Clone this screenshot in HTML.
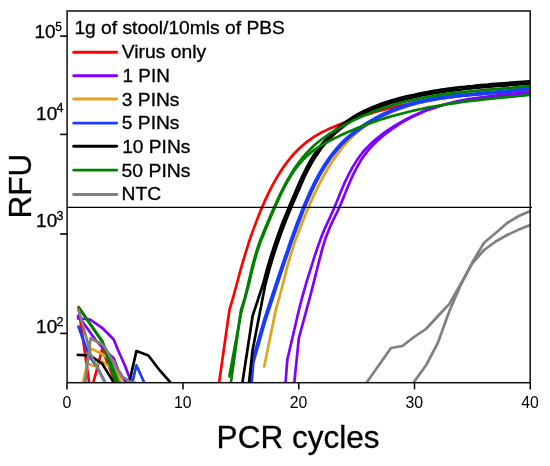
<!DOCTYPE html>
<html><head><meta charset="utf-8"><title>PCR amplification curves</title>
<style>
html,body{margin:0;padding:0;background:#fff;}
svg{display:block;}
text{font-family:"Liberation Sans",Arial,Helvetica,sans-serif;fill:#000;}
</style></head>
<body>
<svg width="550" height="466" viewBox="0 0 550 466">
<rect x="0" y="0" width="550" height="466" fill="#ffffff"/>
<defs><clipPath id="plot"><rect x="67.1" y="11.0" width="463.1" height="371.7"/></clipPath></defs>
<g clip-path="url(#plot)">
<polyline points="78.5,307.0 90.6,393.0 102.1,349.5 113.7,378.0 125.3,400.0" fill="none" stroke="#ff0000" stroke-width="2.7" stroke-linejoin="round" stroke-linecap="round" />
<polyline points="78.0,318.5 90.1,319.5 102.1,327.8 113.7,339.5 118.0,350.0 125.3,366.5 131.5,383.0 136.8,395.0" fill="none" stroke="#7f00ff" stroke-width="2.7" stroke-linejoin="round" stroke-linecap="round" />
<polyline points="78.0,316.0 86.4,327.0 95.0,339.3 102.1,347.0 107.0,352.2 113.7,358.2 118.0,369.6 125.3,381.5 136.8,395.0" fill="none" stroke="#7f00ff" stroke-width="2.7" stroke-linejoin="round" stroke-linecap="round" />
<polyline points="79.0,400.6 90.6,348.4 102.1,354.0 113.7,361.5 125.3,392.4" fill="none" stroke="#e3a21a" stroke-width="2.7" stroke-linejoin="round" stroke-linecap="round" />
<polyline points="89.4,364.3 94.0,366.0 102.1,361.5 113.7,369.6 125.3,392.0" fill="none" stroke="#e3a21a" stroke-width="2.7" stroke-linejoin="round" stroke-linecap="round" />
<polyline points="78.5,326.5 82.5,338.0 89.6,356.5 97.3,367.5 104.9,382.0 108.0,390.0" fill="none" stroke="#1a3cff" stroke-width="2.7" stroke-linejoin="round" stroke-linecap="round" />
<polyline points="128.3,400.0 136.4,365.3 144.4,383.0 148.4,392.0" fill="none" stroke="#1a3cff" stroke-width="2.7" stroke-linejoin="round" stroke-linecap="round" />
<polyline points="77.8,354.9 90.1,355.5 102.1,363.6 113.7,382.4 125.3,400.0" fill="none" stroke="#000000" stroke-width="2.7" stroke-linejoin="round" stroke-linecap="round" />
<polyline points="125.3,400.0 136.4,351.1 148.4,355.5 160.0,370.7 170.2,382.2 173.6,386.0" fill="none" stroke="#000000" stroke-width="2.7" stroke-linejoin="round" stroke-linecap="round" />
<polyline points="79.0,308.0 99.5,338.0 102.1,341.6 113.7,376.0 125.3,405.0" fill="none" stroke="#008000" stroke-width="2.7" stroke-linejoin="round" stroke-linecap="round" />
<polyline points="79.3,308.0 99.8,337.6 102.5,341.4 113.7,370.0 125.3,400.0" fill="none" stroke="#008000" stroke-width="2.7" stroke-linejoin="round" stroke-linecap="round" />
<polyline points="78.6,310.0 88.0,343.6 90.6,354.4 98.4,369.6 104.9,382.0 108.0,390.0" fill="none" stroke="#808080" stroke-width="2.7" stroke-linejoin="round" stroke-linecap="round" />
<polyline points="84.3,395.0 85.3,382.0 90.6,338.2 102.6,344.7 106.0,349.0 113.7,363.0 121.3,376.0 129.0,381.0 134.0,382.6 140.0,384.0" fill="none" stroke="#808080" stroke-width="2.7" stroke-linejoin="round" stroke-linecap="round" />
<polyline points="217.9,391.3 229.4,310.2 233.3,296.9 237.2,282.5 241.0,268.4 244.9,255.1 248.7,242.8 252.6,231.6 256.5,221.1 260.3,211.4 264.2,202.4 268.0,194.1 271.9,186.4 275.8,179.4 279.6,173.0 283.5,167.1 287.3,161.8 291.2,157.0 295.0,152.7 298.9,148.8 302.8,145.3 306.6,142.1 310.5,139.3 314.3,136.7 318.2,134.4 322.0,132.3 325.9,130.4 329.8,128.6 333.6,126.9 337.5,125.3 341.3,123.7 345.2,122.2 349.1,120.7 352.9,119.3 356.8,117.9 360.6,116.6 364.5,115.3 368.4,114.1 372.2,112.9 376.1,111.8 379.9,110.7 383.8,109.7 387.6,108.6 391.5,107.7 395.4,106.7 399.2,105.8 403.1,105.0 406.9,104.2 410.8,103.4 414.6,102.6 418.5,101.9 422.4,101.2 426.2,100.5 430.1,99.9 433.9,99.3 437.8,98.7 441.7,98.2 445.5,97.7 449.4,97.2 453.2,96.7 457.1,96.2 460.9,95.8 464.8,95.4 468.7,95.0 472.5,94.6 476.4,94.2 480.2,93.9 484.1,93.5 488.0,93.2 491.8,92.9 495.7,92.6 499.5,92.3 503.4,92.0 507.2,91.8 511.1,91.5 515.0,91.2 518.8,91.0 522.7,90.7 526.5,90.5 530.4,90.2" fill="none" stroke="#ff0000" stroke-width="2.7" stroke-linejoin="round" stroke-linecap="round" />
<polyline points="275.8,509.1 287.3,359.8 298.9,310.0 302.8,295.2 306.6,281.8 310.5,269.3 314.3,257.2 318.2,245.6 322.0,235.2 325.9,226.1 329.8,217.7 333.6,209.2 337.5,200.0 341.3,190.5 345.2,181.5 349.1,173.6 352.9,166.6 356.8,160.4 360.6,155.0 364.5,150.2 368.4,146.1 372.2,142.4 376.1,139.0 379.9,136.0 383.8,133.1 387.6,130.4 391.5,127.9 395.4,125.4 399.2,123.1 403.1,121.0 406.9,118.9 410.8,117.0 414.6,115.2 418.5,113.4 422.4,111.8 426.2,110.3 430.1,108.9 433.9,107.6 437.8,106.4 441.7,105.3 445.5,104.2 449.4,103.2 453.2,102.3 457.1,101.4 460.9,100.7 464.8,99.9 468.7,99.2 472.5,98.6 476.4,98.0 480.2,97.5 484.1,97.0 488.0,96.5 491.8,96.0 495.7,95.6 499.5,95.2 503.4,94.8 507.2,94.4 511.1,94.0 515.0,93.6 518.8,93.2 522.7,92.8 526.5,92.4 530.4,92.0" fill="none" stroke="#7f00ff" stroke-width="2.7" stroke-linejoin="round" stroke-linecap="round" />
<polyline points="287.3,450.7 298.9,338.0 310.5,295.1 314.3,280.2 318.2,264.7 322.0,249.9 325.9,237.2 329.8,227.4 333.6,219.2 337.5,211.5 341.3,202.9 345.2,193.2 349.1,183.7 352.9,175.1 356.8,167.5 360.6,160.8 364.5,155.1 368.4,150.1 372.2,145.8 376.1,142.0 379.9,138.5 383.8,135.3 387.6,132.3 391.5,129.4 395.4,126.8 399.2,124.2 403.1,121.9 406.9,119.7 410.8,117.6 414.6,115.7 418.5,113.9 422.4,112.2 426.2,110.6 430.1,109.2 433.9,107.9 437.8,106.6 441.7,105.5 445.5,104.5 449.4,103.5 453.2,102.6 457.1,101.8 460.9,101.1 464.8,100.4 468.7,99.8 472.5,99.2 476.4,98.7 480.2,98.2 484.1,97.8 488.0,97.3 491.8,96.9 495.7,96.5 499.5,96.1 503.4,95.7 507.2,95.3 511.1,94.9 515.0,94.5 518.8,94.0 522.7,93.5 526.5,93.0 530.4,92.5" fill="none" stroke="#7f00ff" stroke-width="2.7" stroke-linejoin="round" stroke-linecap="round" />
<polyline points="264.2,366.5 275.8,309.8 279.6,296.5 283.5,281.5 287.3,266.6 291.2,253.2 295.0,241.6 298.9,231.2 302.8,221.3 306.6,211.8 310.5,202.8 314.3,194.3 318.2,186.3 322.0,178.9 325.9,171.9 329.8,165.5 333.6,159.6 337.5,154.1 341.3,149.0 345.2,144.4 349.1,140.1 352.9,136.2 356.8,132.7 360.6,129.4 364.5,126.5 368.4,123.8 372.2,121.4 376.1,119.1 379.9,117.1 383.8,115.3 387.6,113.6 391.5,112.0 395.4,110.6 399.2,109.2 403.1,107.9 406.9,106.7 410.8,105.5 414.6,104.4 418.5,103.4 422.4,102.5 426.2,101.6 430.1,100.8 433.9,100.0 437.8,99.3 441.7,98.6 445.5,98.0 449.4,97.4 453.2,96.8 457.1,96.3 460.9,95.8 464.8,95.4 468.7,95.0 472.5,94.5 476.4,94.2 480.2,93.8 484.1,93.4 488.0,93.1 491.8,92.7 495.7,92.4 499.5,92.0 503.4,91.7 507.2,91.3 511.1,91.0 515.0,90.6 518.8,90.2 522.7,89.8 526.5,89.3 530.4,88.8" fill="none" stroke="#e3a21a" stroke-width="2.7" stroke-linejoin="round" stroke-linecap="round" />
<polyline points="241.7,509.6 253.3,362.6 264.8,322.4 272.6,298.5 276.4,286.9 280.3,275.3 284.1,263.8 288.0,252.5 291.8,241.5 295.7,230.8 299.6,220.5 303.4,210.6 307.3,201.3 311.1,192.6 315.0,184.5 318.8,177.1 322.7,170.3 326.5,164.2 330.3,158.5 334.2,153.5 338.0,148.8 341.8,144.6 345.7,140.8 349.5,137.3 353.4,134.1 357.2,131.2 361.0,128.4 364.9,125.8 368.7,123.4 372.6,121.1 376.4,119.0 380.2,116.9 384.1,115.0 387.9,113.3 391.8,111.6 395.6,110.0 399.5,108.6 403.3,107.2 407.1,106.0 411.0,104.8 414.8,103.8 418.7,102.8 422.5,101.9 426.4,101.0 430.2,100.3 434.1,99.6 437.9,98.9 441.8,98.3 445.6,97.8 449.5,97.3 453.3,96.8 457.2,96.4 461.0,96.0 464.9,95.7 468.7,95.3 472.6,95.0 476.4,94.7 480.3,94.3 484.2,94.0 488.0,93.7 491.9,93.4 495.7,93.0 499.6,92.7 503.5,92.3 507.3,91.9 511.2,91.5 515.1,91.0 518.9,90.5 522.8,89.9 526.7,89.3 530.5,88.6" fill="none" stroke="#1a3cff" stroke-width="2.7" stroke-linejoin="round" stroke-linecap="round" />
<polyline points="240.3,509.5 251.9,362.4 263.5,322.0 271.2,298.1 275.1,286.4 278.9,274.8 282.8,263.4 286.7,252.1 290.5,241.0 294.4,230.3 298.2,220.0 302.1,210.1 306.0,200.8 309.8,192.0 313.7,183.9 317.6,176.4 321.4,169.6 325.3,163.4 329.2,157.7 333.1,152.6 337.0,147.9 340.8,143.7 344.7,139.8 348.6,136.2 352.5,133.0 356.4,130.0 360.2,127.3 364.1,124.7 368.0,122.2 371.9,119.9 375.7,117.7 379.6,115.7 383.5,113.8 387.4,112.0 391.2,110.3 395.1,108.7 399.0,107.3 402.9,105.9 406.7,104.7 410.6,103.5 414.5,102.4 418.3,101.4 422.2,100.5 426.1,99.7 430.0,98.9 433.8,98.2 437.7,97.5 441.6,97.0 445.4,96.4 449.3,95.9 453.2,95.4 457.0,95.0 460.9,94.6 464.7,94.3 468.6,93.9 472.5,93.6 476.3,93.3 480.2,92.9 484.0,92.6 487.9,92.3 491.8,92.0 495.6,91.7 499.5,91.3 503.3,90.9 507.2,90.5 511.0,90.1 514.9,89.6 518.7,89.1 522.6,88.5 526.4,87.9 530.3,87.2" fill="none" stroke="#1a3cff" stroke-width="2.7" stroke-linejoin="round" stroke-linecap="round" />
<polyline points="241.0,392.0 252.6,316.0 263.1,284.0 266.9,269.7 270.8,256.5 274.7,244.5 278.5,233.4 282.4,223.1 286.3,213.4 290.1,204.2 294.0,195.2 297.8,186.3 301.7,177.6 305.6,169.5 309.5,162.3 313.4,155.8 317.3,150.0 321.2,144.9 325.1,140.3 328.9,136.1 332.8,132.4 336.7,129.0 340.6,125.8 344.5,122.8 348.4,120.1 352.3,117.5 356.2,115.2 360.1,113.0 364.0,111.0 367.9,109.2 371.8,107.5 375.6,105.9 379.5,104.4 383.4,103.1 387.3,101.8 391.2,100.6 395.0,99.5 398.9,98.4 402.8,97.4 406.7,96.4 410.5,95.5 414.4,94.7 418.3,93.8 422.1,93.0 426.0,92.3 429.9,91.6 433.8,90.9 437.6,90.3 441.5,89.7 445.4,89.2 449.2,88.6 453.1,88.1 457.0,87.6 460.8,87.2 464.7,86.8 468.5,86.3 472.4,86.0 476.3,85.6 480.1,85.2 484.0,84.9 487.9,84.6 491.7,84.2 495.6,83.9 499.4,83.6 503.3,83.3 507.2,83.0 511.0,82.7 514.9,82.4 518.7,82.1 522.6,81.8 526.4,81.5 530.3,81.2" fill="none" stroke="#000000" stroke-width="2.7" stroke-linejoin="round" stroke-linecap="round" />
<polyline points="241.0,455.0 252.6,350.0 265.3,284.6 269.1,270.3 273.0,257.2 276.8,245.3 280.7,234.2 284.5,224.0 288.4,214.3 292.2,205.1 296.1,196.1 300.0,187.3 303.8,178.5 307.6,170.5 311.5,163.4 315.3,157.0 319.1,151.4 322.9,146.3 326.8,141.8 330.6,137.8 334.4,134.1 338.2,130.7 342.1,127.6 345.9,124.7 349.7,122.0 353.5,119.5 357.4,117.2 361.2,115.1 365.0,113.1 368.8,111.3 372.7,109.6 376.5,108.0 380.3,106.6 384.2,105.3 388.0,104.0 391.8,102.8 395.7,101.7 399.5,100.6 403.4,99.6 407.2,98.7 411.1,97.8 414.9,96.9 418.7,96.1 422.6,95.3 426.4,94.6 430.3,93.9 434.1,93.2 438.0,92.6 441.8,92.0 445.7,91.4 449.5,90.9 453.4,90.4 457.2,89.9 461.1,89.5 464.9,89.0 468.8,88.6 472.6,88.2 476.5,87.9 480.3,87.5 484.2,87.2 488.1,86.8 491.9,86.5 495.8,86.2 499.6,85.9 503.5,85.6 507.3,85.3 511.2,85.0 515.1,84.7 518.9,84.4 522.8,84.1 526.6,83.8 530.5,83.4" fill="none" stroke="#000000" stroke-width="2.7" stroke-linejoin="round" stroke-linecap="round" />
<polyline points="229.4,393.5 241.0,309.9 244.9,297.9 248.7,281.7 252.6,265.1 256.5,251.3 260.3,240.2 264.2,230.6 268.0,221.4 271.9,212.4 275.8,203.7 279.6,195.4 283.5,187.6 287.3,180.4 291.2,173.8 295.0,167.8 298.9,162.3 302.8,157.4 306.6,153.0 310.5,149.0 314.3,145.3 318.2,142.0 322.0,139.0 325.9,136.3 329.8,133.7 333.6,131.3 337.5,128.9 341.3,126.7 345.2,124.6 349.1,122.6 352.9,120.6 356.8,118.8 360.6,117.0 364.5,115.3 368.4,113.7 372.2,112.1 376.1,110.6 379.9,109.2 383.8,107.9 387.6,106.7 391.5,105.5 395.4,104.3 399.2,103.2 403.1,102.2 406.9,101.3 410.8,100.4 414.6,99.5 418.5,98.7 422.4,97.9 426.2,97.2 430.1,96.5 433.9,95.9 437.8,95.3 441.7,94.7 445.5,94.2 449.4,93.7 453.2,93.2 457.1,92.7 460.9,92.3 464.8,91.9 468.7,91.5 472.5,91.1 476.4,90.8 480.2,90.4 484.1,90.1 488.0,89.7 491.8,89.4 495.7,89.1 499.5,88.8 503.4,88.4 507.2,88.1 511.1,87.8 515.0,87.4 518.8,87.0 522.7,86.7 526.5,86.3 530.4,85.9" fill="none" stroke="#008000" stroke-width="2.7" stroke-linejoin="round" stroke-linecap="round" />
<polyline points="229.4,376.3 241.0,313.1 248.7,284.9 252.6,268.1 256.5,253.8 260.3,242.5 264.2,232.8 268.0,223.4 271.9,214.3 275.8,205.4 279.6,196.9 283.5,189.0 287.3,181.7 291.2,175.3 295.0,169.6 298.9,164.5 302.8,160.1 306.6,156.3 310.5,152.9 314.3,149.9 318.2,147.3 322.0,144.9 325.9,142.8 329.8,140.7 333.6,138.8 337.5,136.9 341.3,135.0 345.2,133.2 349.1,131.5 352.9,129.9 356.8,128.3 360.6,126.7 364.5,125.3 368.4,123.8 372.2,122.4 376.1,121.1 379.9,119.8 383.8,118.6 387.6,117.4 391.5,116.3 395.4,115.2 399.2,114.2 403.1,113.2 406.9,112.2 410.8,111.3 414.6,110.4 418.5,109.5 422.4,108.7 426.2,107.9 430.1,107.2 433.9,106.5 437.8,105.8 441.7,105.1 445.5,104.5 449.4,103.9 453.2,103.3 457.1,102.8 460.9,102.2 464.8,101.7 468.7,101.2 472.5,100.7 476.4,100.3 480.2,99.8 484.1,99.4 488.0,99.0 491.8,98.6 495.7,98.2 499.5,97.8 503.4,97.4 507.2,97.1 511.1,96.7 515.0,96.3 518.8,96.0 522.7,95.6 526.5,95.2 530.4,94.9" fill="none" stroke="#008000" stroke-width="2.7" stroke-linejoin="round" stroke-linecap="round" />
<polyline points="355.0,400.0 367.0,382.0 391.0,348.0 402.4,346.0 414.0,337.0 426.0,329.0 438.0,316.0 449.4,303.8 461.0,283.5 472.5,263.0 484.1,250.0 495.7,241.5 507.2,235.0 518.8,229.6 530.4,225.0" fill="none" stroke="#808080" stroke-width="2.7" stroke-linejoin="round" stroke-linecap="round" />
<polyline points="401.0,400.0 414.0,382.0 426.2,365.0 437.8,343.0 449.4,311.0 461.0,284.5 472.5,262.0 484.1,242.8 495.7,233.0 507.2,223.0 518.8,216.0 530.4,211.0" fill="none" stroke="#808080" stroke-width="2.7" stroke-linejoin="round" stroke-linecap="round" />
</g>
<line x1="67.1" y1="207.4" x2="532" y2="207.4" stroke="#000" stroke-width="1.3"/>
<rect x="67.1" y="11.0" width="463.1" height="371.7" fill="none" stroke="#111" stroke-width="1.5"/>
<text x="34.4" y="38" font-size="19" text-anchor="start" stroke="#000" stroke-width="0.3">10</text>
<text x="55.2" y="31" font-size="12" text-anchor="start" stroke="#000" stroke-width="0.3">5</text>
<line x1="60.2" y1="36.1" x2="67.1" y2="36.1" stroke="#000" stroke-width="1.6"/>
<text x="36.1" y="120" font-size="19" text-anchor="start" stroke="#000" stroke-width="0.3">10</text>
<text x="56.4" y="112" font-size="12.6" text-anchor="start" stroke="#000" stroke-width="0.3">4</text>
<line x1="60.2" y1="134.4" x2="67.1" y2="134.4" stroke="#000" stroke-width="1.6"/>
<text x="36.1" y="226.6" font-size="19" text-anchor="start" stroke="#000" stroke-width="0.3">10</text>
<text x="56.4" y="220" font-size="12.6" text-anchor="start" stroke="#000" stroke-width="0.3">3</text>
<line x1="60.2" y1="234" x2="67.1" y2="234" stroke="#000" stroke-width="1.6"/>
<text x="36.1" y="333" font-size="19" text-anchor="start" stroke="#000" stroke-width="0.3">10</text>
<text x="56.4" y="326.4" font-size="12.6" text-anchor="start" stroke="#000" stroke-width="0.3">2</text>
<line x1="60.2" y1="333.4" x2="67.1" y2="333.4" stroke="#000" stroke-width="1.6"/>
<line x1="67.0" y1="382.7" x2="67.0" y2="389.5" stroke="#000" stroke-width="1.5"/>
<text x="66.8" y="407.6" font-size="15.8" text-anchor="middle" >0</text>
<line x1="183.0" y1="382.7" x2="183.0" y2="389.5" stroke="#000" stroke-width="1.5"/>
<text x="182.8" y="407.6" font-size="15.8" text-anchor="middle" >10</text>
<line x1="298.8" y1="382.7" x2="298.8" y2="389.5" stroke="#000" stroke-width="1.5"/>
<text x="298.6" y="407.6" font-size="15.8" text-anchor="middle" >20</text>
<line x1="414.5" y1="382.7" x2="414.5" y2="389.5" stroke="#000" stroke-width="1.5"/>
<text x="414.3" y="407.6" font-size="15.8" text-anchor="middle" >30</text>
<line x1="530.3" y1="382.7" x2="530.3" y2="389.5" stroke="#000" stroke-width="1.5"/>
<text x="530.0999999999999" y="407.6" font-size="15.8" text-anchor="middle" >40</text>
<text x="74.4" y="34" font-size="18.2" text-anchor="start" textLength="210.5" lengthAdjust="spacingAndGlyphs" stroke="#000" stroke-width="0.3">1g of stool/10mls of PBS</text>
<line x1="73.7" y1="52.2" x2="116.7" y2="52.2" stroke="#ff0000" stroke-width="2.9" stroke-linecap="round"/>
<text x="121.8" y="57.5" font-size="18.2" text-anchor="start" textLength="84.4" lengthAdjust="spacingAndGlyphs" stroke="#000" stroke-width="0.3">Virus only</text>
<line x1="73.7" y1="75.7" x2="116.7" y2="75.7" stroke="#7f00ff" stroke-width="2.9" stroke-linecap="round"/>
<text x="122.6" y="81.6" font-size="18.2" text-anchor="start" textLength="47.2" lengthAdjust="spacingAndGlyphs" stroke="#000" stroke-width="0.3">1 PIN</text>
<line x1="73.7" y1="99" x2="116.7" y2="99" stroke="#e3a21a" stroke-width="2.9" stroke-linecap="round"/>
<text x="121.8" y="105.6" font-size="18.2" text-anchor="start" textLength="57.7" lengthAdjust="spacingAndGlyphs" stroke="#000" stroke-width="0.3">3 PINs</text>
<line x1="73.7" y1="123.1" x2="116.7" y2="123.1" stroke="#1a3cff" stroke-width="2.9" stroke-linecap="round"/>
<text x="121.8" y="129.2" font-size="18.2" text-anchor="start" textLength="57.7" lengthAdjust="spacingAndGlyphs" stroke="#000" stroke-width="0.3">5 PINs</text>
<line x1="73.7" y1="146.3" x2="116.7" y2="146.3" stroke="#000000" stroke-width="2.9" stroke-linecap="round"/>
<text x="122.2" y="153" font-size="18.2" text-anchor="start" textLength="68.2" lengthAdjust="spacingAndGlyphs" stroke="#000" stroke-width="0.3">10 PINs</text>
<line x1="73.7" y1="170.1" x2="116.7" y2="170.1" stroke="#008000" stroke-width="2.9" stroke-linecap="round"/>
<text x="121.6" y="176.5" font-size="18.2" text-anchor="start" textLength="68.8" lengthAdjust="spacingAndGlyphs" stroke="#000" stroke-width="0.3">50 PINs</text>
<line x1="73.7" y1="194.5" x2="116.7" y2="194.5" stroke="#808080" stroke-width="2.9" stroke-linecap="round"/>
<text x="121.6" y="199.6" font-size="18.2" text-anchor="start" textLength="39.6" lengthAdjust="spacingAndGlyphs" stroke="#000" stroke-width="0.3">NTC</text>
<text transform="translate(31,218.5) rotate(-90)" font-size="31.5" stroke="#000" stroke-width="0.3">RFU</text>
<text x="216.6" y="448.2" font-size="31.5" text-anchor="start" textLength="163" lengthAdjust="spacingAndGlyphs" stroke="#000" stroke-width="0.3">PCR cycles</text>
</svg>
</body></html>
